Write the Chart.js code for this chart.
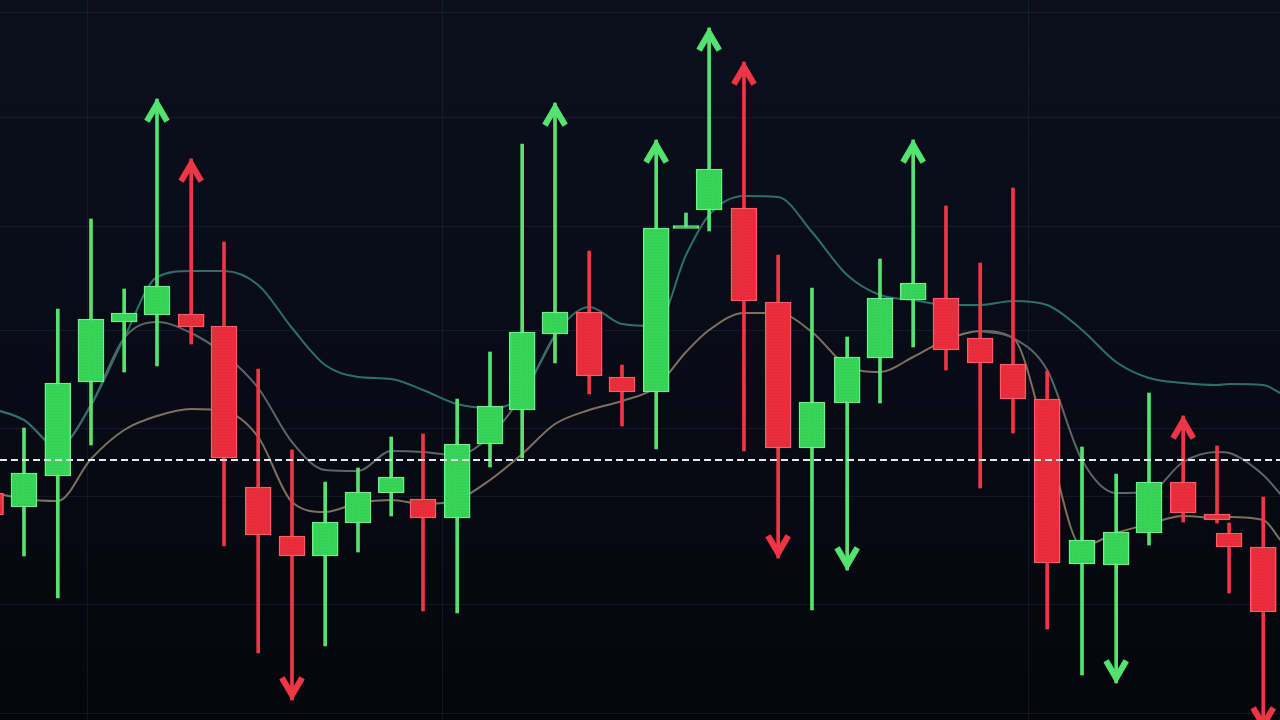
<!DOCTYPE html>
<html><head><meta charset="utf-8">
<script src="https://cdn.jsdelivr.net/npm/chart.js@4.4.1/dist/chart.umd.min.js"></script>
<style>html,body{margin:0;padding:0;background:#070a12;overflow:hidden}#wrap{width:1280px;height:720px}</style>
</head><body><div id="wrap"><canvas id="c" width="1280" height="720"></canvas></div>
<script>
// time index of each candle
const candleX = [0, 1, 2.01, 3.0, 3.99, 4.97, 5.99, 6.97, 7.99, 9.0, 9.99, 10.97, 11.96, 12.91, 13.93, 14.91, 15.87, 16.85, 17.87, 18.85, 19.87, 20.76, 21.45, 22.49, 23.51, 24.52, 25.57, 26.55, 27.54, 28.52, 29.54, 30.52, 31.54, 32.58, 33.6, 34.58, 35.6, 36.61, 36.97, 37.99];
const opens  = [22.7, 21.3, 24.4, 33.8, 39.8, 40.5, 40.6, 39.4, 23.3, 18.4, 16.4, 19.7, 22.7, 22.1, 20.2, 27.6, 31.0, 38.6, 40.8, 34.3, 32.8, 49.15, 51.0, 51.2, 41.8, 27.2, 31.7, 36.2, 42.0, 42.2, 38.2, 35.6, 32.1, 15.6, 15.5, 18.7, 23.8, 20.6, 18.7, 17.3];
const closes = [20.5, 24.7, 33.7, 40.1, 40.7, 43.4, 39.3, 26.2, 18.5, 16.4, 19.8, 22.8, 24.3, 20.2, 27.6, 31.4, 38.8, 40.8, 34.4, 32.8, 49.2, 49.45, 55.1, 41.9, 27.2, 31.8, 36.3, 42.2, 43.7, 37.0, 35.7, 32.1, 15.7, 18.0, 18.8, 23.8, 20.7, 20.0, 17.3, 10.8];
const highs  = [24.0, 29.2, 41.1, 50.1, 43.1, 62.1, 56.1, 47.8, 35.1, 27.0, 23.8, 25.2, 28.3, 28.6, 32.1, 36.8, 57.6, 61.7, 46.9, 35.5, 58.0, 50.7, 69.2, 65.8, 46.5, 43.2, 38.3, 46.1, 58.0, 51.4, 45.7, 53.2, 34.9, 27.3, 24.6, 32.7, 30.4, 27.4, 19.7, 22.3];
const lows   = [19.0, 16.4, 12.2, 27.5, 34.8, 35.4, 37.6, 17.4, 6.7, 2.0, 7.4, 16.8, 20.4, 10.9, 10.7, 25.3, 26.2, 35.7, 32.6, 29.4, 27.1, 49.3, 48.9, 26.9, 16.2, 11.0, 15.0, 31.7, 37.3, 35.0, 23.2, 28.7, 9.1, 4.5, 3.7, 17.5, 19.8, 19.7, 12.7, -1.0];
// 1 = arrow on the high, -1 = arrow on the low
const arrowDirs = [0,0,0,0,0,1,1,0,0,-1, 0,0,0,0,0,0,0,1,0,0, 1,0,1,1,-1,0,-1,0,1,0, 0,0,0,0,-1,0,1,0,0,-1];

// moving-average style lines sampled at candle times (+ right edge)
const lineX = candleX.concat([38.5]);
const tealLine = [31.2, 30.0, 27.3, 31.5, 38.2, 44.3, 44.9, 44.9, 43.5, 39.2, 35.5, 34.3, 34.1, 33.0, 31.6, 31.2, 32.5, 38.5, 41.3, 39.6, 39.4, 46.5, 50.5, 52.4, 52.3, 48.8, 44.5, 42.5, 42.0, 41.5, 41.5, 41.9, 41.5, 39.0, 35.8, 34.2, 33.7, 33.5, 33.6, 33.5, 32.7];
const greyLine = [31.2, 30.0, 27.3, 31.5, 38.2, 39.8, 38.7, 36.6, 33.2, 27.8, 25.0, 24.9, 26.9, 26.8, 26.5, 28.4, 32.5, 38.5, null, null, null, null, null, null, null, null, null, null, null, null, 38.9, 38.2, 35.0, 26.0, 22.7, 22.8, 25.8, 26.8, 26.7, 24.5, 22.6];
const tanLine  = [22.8, 22.1, 21.9, 26.1, 29.0, 30.4, 31.1, 30.9, 28.3, 21.8, 20.8, 21.7, 22.0, 21.6, 22.0, 24.0, 26.6, 29.6, 31.0, 31.9, 33.3, 36.8, 39.0, 40.7, 40.7, 38.8, 35.4, 34.8, 36.3, 38.0, 38.9, 38.2, 28.0, 17.4, 18.7, 19.6, 20.4, 20.2, 20.3, 20.0, 18.0];

const refLevel = 26.0;
const gridY = [70.7, 60.2, 49.4, 39.0, 29.2, 22.4, 11.6, 0.7];
const gridX = [2.91, 13.48, 30.97];
const xRange = [0.284, 38.49];
const yRange = [0, 72];

const GREEN = {base:'#3ad95c', dot:'#2bbf4c', border:'#6af288', wick:'#55e270'};
const RED   = {base:'#ee2f3e', dot:'#d32433', border:'#ff5b66', wick:'#ee3646'};

const canvas = document.getElementById('c');
const mainCtx = canvas.getContext('2d');
function makePattern(c) {
  const p = document.createElement('canvas'); p.width = 3; p.height = 3;
  const g = p.getContext('2d');
  g.fillStyle = c.base; g.fillRect(0,0,3,3);
  g.fillStyle = c.dot; g.fillRect(0,0,1,1); g.fillRect(1.5,1.5,1,1);
  return mainCtx.createPattern(p, 'repeat');
}
const greenPat = makePattern(GREEN), redPat = makePattern(RED);
const isUp = i => closes[i] >= opens[i];

const bgPlugin = {
  id: 'bg',
  beforeDraw(chart) {
    const {ctx, width, height} = chart;
    const g = ctx.createLinearGradient(0, 0, 0, height);
    g.addColorStop(0, '#0b101d'); g.addColorStop(0.55, '#080b15'); g.addColorStop(1, '#04060b');
    ctx.save(); ctx.fillStyle = g; ctx.fillRect(0, 0, width, height); ctx.restore();
  }
};
const arrowPlugin = {
  id: 'arrows',
  afterDatasetsDraw(chart) {
    const {ctx, chartArea, scales} = chart;
    ctx.save();
    ctx.beginPath(); ctx.rect(chartArea.left, chartArea.top, chartArea.width, chartArea.height); ctx.clip();
    candleX.forEach((cx, i) => {
      const d = arrowDirs[i]; if (!d) return;
      const px = scales.x.getPixelForValue(cx);
      const py = scales.y.getPixelForValue(d > 0 ? highs[i] : lows[i]);
      const s = d > 0 ? 1 : -1;
      ctx.fillStyle = isUp(i) ? GREEN.wick : RED.wick;
      ctx.strokeStyle = ctx.fillStyle; ctx.lineWidth = 1.2; ctx.lineJoin = 'round';
      ctx.beginPath();
      ctx.moveTo(px, py);
      ctx.lineTo(px + 12, py + 20.5 * s);
      ctx.lineTo(px + 7.7, py + 23 * s);
      ctx.lineTo(px, py + 10 * s);
      ctx.lineTo(px - 7.7, py + 23 * s);
      ctx.lineTo(px - 12, py + 20.5 * s);
      ctx.closePath(); ctx.fill(); ctx.stroke();
    });
    ctx.restore();
  }
};

const lineDs = (arr, color, order) => ({
  type: 'line', data: lineX.map((x, i) => ({x, y: arr[i]})),
  borderColor: color, borderWidth: 2, pointRadius: 0, fill: false,
  cubicInterpolationMode: 'monotone', spanGaps: false, order
});
const gridColor = 'rgba(58,72,98,0.24)';

new Chart(canvas, {
  type: 'bar',
  data: {
    datasets: [
      { type: 'line', data: [{x: xRange[0], y: refLevel}, {x: xRange[1], y: refLevel}],
        borderColor: '#e4e6ea', borderWidth: 1.8, borderDash: [7, 4], pointRadius: 0, order: 0 },
      { type: 'bar', data: candleX.map((x, i) => ({x, y: [opens[i], closes[i]]})),
        backgroundColor: c => isUp(c.dataIndex) ? greenPat : redPat,
        borderColor: c => isUp(c.dataIndex) ? GREEN.border : RED.border,
        borderWidth: 1.5, borderSkipped: false, barThickness: 26, grouped: false, order: 1 },
      { type: 'bar', data: candleX.map((x, i) => ({x, y: [lows[i], highs[i]]})),
        backgroundColor: c => isUp(c.dataIndex) ? GREEN.wick : RED.wick,
        borderWidth: 0, barThickness: 3, grouped: false, order: 2 },
      lineDs(tealLine, '#2d6f6a', 3),
      lineDs(greyLine, '#5c6668', 4),
      lineDs(tanLine, '#7e705c', 5)
    ]
  },
  options: {
    responsive: false, animation: false, events: [],
    layout: {padding: 0},
    plugins: {legend: {display: false}, tooltip: {enabled: false}},
    scales: {
      x: { type: 'linear', min: xRange[0], max: xRange[1], offset: false,
        grid: {offset: false, color: gridColor, drawTicks: false, lineWidth: 1},
        border: {display: false}, ticks: {display: false},
        afterBuildTicks: s => { s.ticks = gridX.map(v => ({value: v})); } },
      y: { type: 'linear', min: yRange[0], max: yRange[1], beginAtZero: false,
        grid: {color: gridColor, drawTicks: false, lineWidth: 1},
        border: {display: false}, ticks: {display: false},
        afterBuildTicks: s => { s.ticks = gridY.map(v => ({value: v})); } }
    }
  },
  plugins: [bgPlugin, arrowPlugin]
});
</script></body></html>
